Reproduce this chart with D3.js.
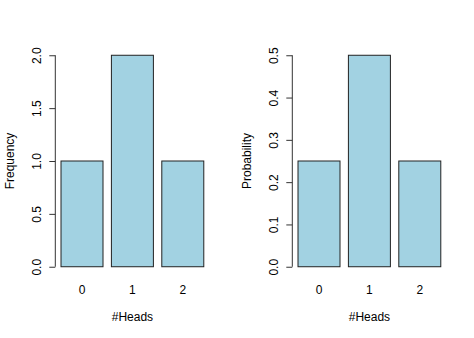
<!DOCTYPE html>
<html>
<head>
<meta charset="utf-8">
<script src="https://cdn.jsdelivr.net/npm/d3@7"></script>
<style>
  html, body { margin: 0; padding: 0; background: #fff; }
  svg { display: block; }
  text { font-family: "Liberation Sans", Arial, sans-serif; font-size: 12px; fill: #000; }
</style>
</head>
<body>
<svg id="chart" width="474" height="338"></svg>
<script>
// Outcomes of tossing two coins: number of heads
const heads = ["0", "1", "2"];
const frequency = [1, 2, 1];
const probability = [0.25, 0.5, 0.25];

const freqTicks = [0, 0.5, 1, 1.5, 2];
const probTicks = [0, 0.1, 0.2, 0.3, 0.4, 0.5];

const svg = d3.select("#chart");

// Each panel mirrors an R barplot: bar width 1, space 0.2, axes extended by 4%
function panel(offsetX, values, yMax, ticks, tickFmt, yTitle) {
  const barW = 1, space = 0.2;
  const lefts = values.map((_, i) => space + i * (barW + space));
  const xMin = lefts[0], xMaxV = lefts[lefts.length - 1] + barW;
  const padX = (xMaxV - xMin) * 0.04, padY = yMax * 0.04;

  const plot = { left: offsetX + 55.3, right: offsetX + 209.5, top: 46.8, bottom: 275.2 };

  const x = d3.scaleLinear().domain([xMin - padX, xMaxV + padX]).range([plot.left, plot.right]);
  const y = d3.scaleLinear().domain([-padY, yMax + padY]).range([plot.bottom, plot.top]);

  const g = svg.append("g");

  g.selectAll("rect.bar")
    .data(values)
    .join("rect")
    .attr("class", "bar")
    .attr("x", (d, i) => x(lefts[i]))
    .attr("width", (d, i) => x(lefts[i] + barW) - x(lefts[i]))
    .attr("y", d => y(d))
    .attr("height", d => y(0) - y(d))
    .attr("fill", "#a2d2e2")
    .attr("stroke", "#222")
    .attr("stroke-width", 1);

  // Y axis in R style: line spans first to last tick, labels rotated
  const yAxis = d3.axisLeft(y).tickValues(ticks).tickFormat(tickFmt).tickSize(6).tickSizeOuter(0);
  const ag = g.append("g").attr("transform", `translate(${plot.left},0)`).call(yAxis);
  ag.attr("font-size", null).attr("font-family", null);
  ag.select(".domain").remove();
  ag.selectAll(".tick line").attr("stroke", "#333");
  ag.append("line")
    .attr("x1", 0).attr("x2", 0)
    .attr("y1", y(ticks[0])).attr("y2", y(ticks[ticks.length - 1]))
    .attr("stroke", "#333");
  ag.selectAll(".tick text")
    .attr("x", 0).attr("y", 0).attr("dy", null)
    .attr("transform", "translate(-18.5,0) rotate(-90)")
    .attr("text-anchor", "middle")
    .attr("dominant-baseline", "central")
    .attr("fill", "#000");

  // Category names under bars
  g.selectAll("text.cat")
    .data(heads)
    .join("text")
    .attr("class", "cat")
    .attr("x", (d, i) => x(lefts[i] + barW / 2))
    .attr("y", 290)
    .attr("text-anchor", "middle")
    .attr("dominant-baseline", "central")
    .text(d => d);

  g.append("text")
    .attr("x", (plot.left + plot.right) / 2)
    .attr("y", 317)
    .attr("text-anchor", "middle")
    .attr("dominant-baseline", "central")
    .text("#Heads");

  g.append("text")
    .attr("transform", `translate(${offsetX + 9.5},${(plot.top + plot.bottom) / 2}) rotate(-90)`)
    .attr("text-anchor", "middle")
    .attr("dominant-baseline", "central")
    .text(yTitle);
}

panel(0, frequency, 2, freqTicks, d3.format(".1f"), "Frequency");
panel(237, probability, 0.5, probTicks, d3.format(".1f"), "Probability");
</script>
</body>
</html>
